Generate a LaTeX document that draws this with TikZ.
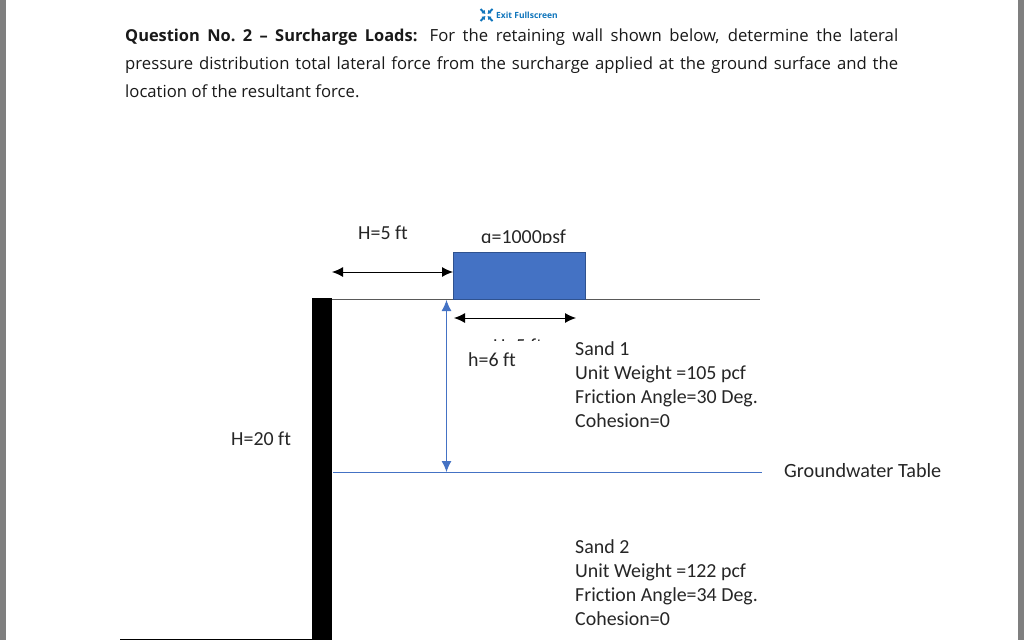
\documentclass[tikz,border=0pt]{standalone}
\usepackage{fontspec}
\setmainfont{Carlito}[Ligatures=NoCommon]
\newfontfamily\qfont{Open Sans}
\usetikzlibrary{arrows.meta}
\definecolor{sideg}{HTML}{7F7F7F}
\definecolor{boxblue}{HTML}{4472C4}
\definecolor{boxedge}{HTML}{2F528F}
\definecolor{linkblue}{HTML}{0F75BC}
\definecolor{groundg}{HTML}{595959}
\tikzset{
  x=1pt,y=-1pt,
  lbl/.style={font=\fontsize{19.9}{24}\selectfont,text=black!85,inner sep=0pt,anchor=base west},
  dimblack/.style={draw=black,line width=1pt,{Latex[length=11pt,width=10pt]}-{Latex[length=11pt,width=10pt]}},
  dimblue/.style={draw=boxblue,line width=1pt,{Latex[length=11pt,width=10pt]}-{Latex[length=11pt,width=10pt]}},
  groundline/.style={draw=groundg,line width=1pt},
  waterline/.style={draw=boxblue,line width=1pt},
  sideband/.style={fill=sideg,draw=none},
  exitarrow/.style={draw=linkblue,line width=2pt,-{Latex[length=3.5pt,width=5pt]}},
}
\begin{document}
\begin{tikzpicture}
\useasboundingbox (0,0) rectangle (1024,640);
\fill[white] (0,0) rectangle (1024,640);
\fill[sideband] (0,0) rectangle (6,640);
\fill[sideband] (1018,0) rectangle (1024,640);
% header
\node[inner sep=0pt,anchor=west,text=linkblue,font=\qfont\bfseries\fontsize{8.5}{10}\selectfont] (exit) at (496,15) {Exit Fullscreen};
\draw[exitarrow] (480.5,9) -- (485.5,14);
\draw[exitarrow] (492.5,9) -- (487.5,14);
\draw[exitarrow] (480.5,21) -- (485.5,16);
\draw[exitarrow] (492.5,21) -- (487.5,16);
% question
\node[inner sep=0pt,anchor=north west,text width=773pt,align=justify,text=black!90,
  font=\qfont\fontsize{16.7}{28}\selectfont] (question) at (125,28.5)
  {{\bfseries\fontsize{16.4}{28}\selectfont Question No.~2 – Surcharge Loads:} For the retaining wall shown below, determine the lateral\linebreak
  pressure distribution total lateral force from the surcharge applied at the ground surface and the\linebreak
  location of the resultant force.\par};
% wall and ground
\fill[black] (312,298) rectangle (332,640);
\coordinate (gL) at (332,299);
\coordinate (gR) at (760,299);
\draw[groundline] (gL) -- (gR);
\coordinate (wL) at (333,472);
\coordinate (wR) at (762,472);
\draw[waterline] (wL) -- (wR);
\coordinate (bL) at (120,639.5);
\coordinate (bR) at (312,639.5);
\draw[black,line width=1.4pt] (bL) -- (bR);
% surcharge
\node[fill=boxblue,draw=boxedge,line width=1pt,minimum width=132pt,minimum height=47pt,inner sep=0pt,anchor=north west] (load) at (453,252) {};
% dimensions
\coordinate (a1) at (332,272);
\coordinate (a2) at (453,272);
\draw[dimblack] (a1) -- (a2);
\coordinate (c1) at (454,318);
\coordinate (c2) at (576,318);
\draw[dimblack] (c1) -- (c2);
\coordinate (d1) at (446.5,300);
\coordinate (d2) at (446.5,472);
\draw[dimblue] (d1) -- (d2);
% labels
\node[lbl] (h5) at (358,239) {H=5 ft};
\begin{scope}
\clip (470,225) rectangle (575,242);
\node[lbl] (q) at (481,243) {q=1000psf};
\end{scope}
\begin{scope}
\clip (490,337) rectangle (540,340.5);
\node[lbl] (h5b) at (493,352) {H=5 ft};
\end{scope}
\node[lbl] (h6) at (468,366) {h=6 ft};
\node[lbl] (h20) at (231,445) {H=20 ft};
\node[lbl,font=\fontsize{20.2}{24}\selectfont] (gw) at (784,477) {Groundwater Table};
\node[lbl] (s1a) at (575,355) {Sand 1};
\node[lbl] (s1b) at (575,379) {Unit Weight =105 pcf};
\node[lbl] (s1c) at (575,403) {Friction Angle=30 Deg.};
\node[lbl] (s1d) at (575,427) {Cohesion=0};
\node[lbl] (s2a) at (575,553) {Sand 2};
\node[lbl] (s2b) at (575,577) {Unit Weight =122 pcf};
\node[lbl] (s2c) at (575,601) {Friction Angle=34 Deg.};
\node[lbl] (s2d) at (575,625) {Cohesion=0};
\end{tikzpicture}
\end{document}
